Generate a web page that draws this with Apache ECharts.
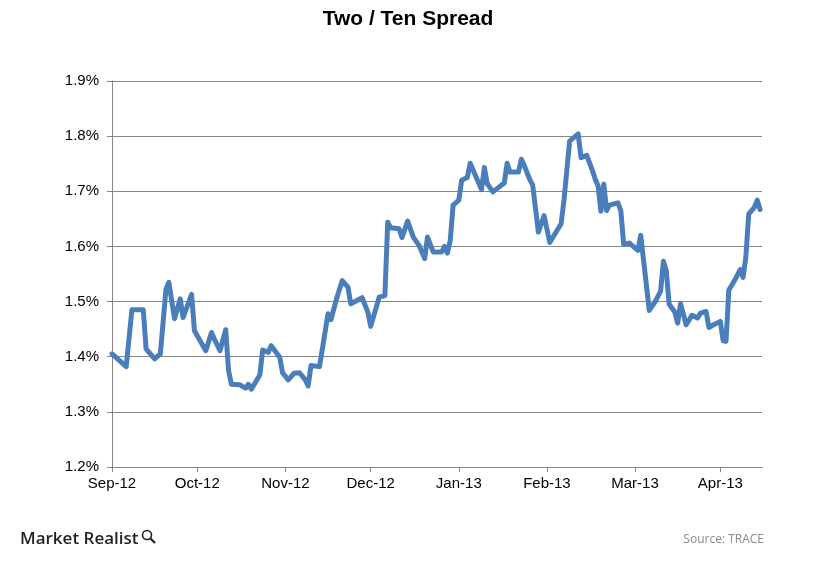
<!DOCTYPE html>
<html>
<head>
<meta charset="utf-8">
<script src="https://cdn.jsdelivr.net/npm/echarts@6/dist/echarts.min.js"></script>
<style>
html,body{margin:0;padding:0;background:#fff;}
#chart{width:816px;height:563px;}
</style>
</head>
<body>
<div id="chart"></div>
<script>
// Data
var dates = [
'2012-09-01','2012-09-06','2012-09-08','2012-09-12','2012-09-13','2012-09-16','2012-09-18','2012-09-20','2012-09-21','2012-09-23',
'2012-09-25','2012-09-26','2012-09-29','2012-09-30','2012-10-02','2012-10-04','2012-10-06','2012-10-07','2012-10-09','2012-10-11',
'2012-10-12','2012-10-13','2012-10-16','2012-10-18','2012-10-19','2012-10-20','2012-10-23','2012-10-24','2012-10-26','2012-10-27',
'2012-10-30','2012-10-31','2012-11-02','2012-11-04','2012-11-06','2012-11-08','2012-11-09','2012-11-10','2012-11-13','2012-11-16',
'2012-11-17','2012-11-19','2012-11-21','2012-11-23','2012-11-24','2012-11-28','2012-11-30','2012-12-01','2012-12-04','2012-12-06',
'2012-12-07','2012-12-08','2012-12-11','2012-12-12','2012-12-14','2012-12-16','2012-12-18','2012-12-20','2012-12-21','2012-12-23',
'2012-12-26','2012-12-27','2012-12-28','2012-12-29','2012-12-30','2013-01-01','2013-01-02','2013-01-04','2013-01-05','2013-01-09',
'2013-01-10','2013-01-11','2013-01-13','2013-01-14','2013-01-17','2013-01-18','2013-01-19','2013-01-22','2013-01-23','2013-01-24',
'2013-01-26','2013-01-27','2013-01-29','2013-01-31','2013-02-02','2013-02-06','2013-02-07','2013-02-09','2013-02-12','2013-02-13',
'2013-02-15','2013-02-17','2013-02-18','2013-02-19','2013-02-20','2013-02-21','2013-02-22','2013-02-23','2013-02-26','2013-02-27',
'2013-02-28','2013-03-02','2013-03-05','2013-03-06','2013-03-07','2013-03-09','2013-03-11','2013-03-13','2013-03-14','2013-03-15',
'2013-03-16','2013-03-18','2013-03-19','2013-03-20','2013-03-22','2013-03-24','2013-03-26','2013-03-27','2013-03-29','2013-03-30',
'2013-04-01','2013-04-03','2013-04-04','2013-04-05','2013-04-06','2013-04-08','2013-04-10','2013-04-11','2013-04-12','2013-04-13',
'2013-04-15','2013-04-16','2013-04-17'
];
var spread = [
1.405,1.382,1.485,1.485,1.414,1.396,1.405,1.523,1.535,1.469,
1.505,1.471,1.513,1.447,1.429,1.411,1.444,1.432,1.411,1.449,
1.375,1.350,1.349,1.343,1.350,1.341,1.367,1.412,1.408,1.420,
1.399,1.371,1.358,1.370,1.371,1.358,1.347,1.384,1.382,1.478,
1.467,1.505,1.538,1.526,1.496,1.507,1.481,1.455,1.508,1.511,
1.644,1.634,1.632,1.616,1.646,1.617,1.602,1.578,1.617,1.590,
1.590,1.600,1.588,1.611,1.675,1.684,1.720,1.725,1.751,1.703,
1.743,1.714,1.699,1.703,1.715,1.751,1.735,1.735,1.758,1.747,
1.721,1.711,1.626,1.656,1.607,1.641,1.684,1.791,1.804,1.761,
1.765,1.738,1.722,1.710,1.664,1.713,1.665,1.675,1.679,1.665,
1.604,1.606,1.593,1.620,1.575,1.484,1.499,1.519,1.573,1.556,
1.495,1.481,1.461,1.496,1.458,1.475,1.470,1.479,1.482,1.453,
1.459,1.464,1.429,1.428,1.521,1.538,1.558,1.544,1.582,1.659,
1.671,1.684,1.667
];
var tickDates = ['2012-09-01','2012-10-01','2012-11-01','2012-12-01','2013-01-01','2013-02-01','2013-03-04','2013-04-03'];
var monthNames = ['Jan','Feb','Mar','Apr','May','Jun','Jul','Aug','Sep','Oct','Nov','Dec'];
var axisStart = '2012-09-01T00:00:00';
var axisEnd = '2013-04-17T16:00:00';

function ts(s){ return +new Date(s.length === 10 ? s + 'T00:00:00' : s); }
var seriesData = dates.map(function(d, i){ return [ts(d), spread[i]]; });
var tickTs = tickDates.map(ts);

var chart = echarts.init(document.getElementById('chart'), null, {renderer:'canvas'});
var gray = '#868686';
chart.setOption({
  animation: false,
  backgroundColor: '#ffffff',
  title: {
    text: 'Two / Ten Spread',
    left: 'center',
    top: 4,
    textStyle: {fontFamily: 'Liberation Sans', fontSize: 21, fontWeight: 'bold', color: '#000'}
  },
  grid: {left: 112, right: 54, top: 81, bottom: 96, containLabel: false},
  xAxis: {
    type: 'value',
    min: ts(axisStart),
    max: ts(axisEnd),
    axisLine: {show: true, lineStyle: {color: gray, width: 1}},
    axisTick: {show: true, length: 5, lineStyle: {color: gray}, customValues: tickTs},
    axisLabel: {
      customValues: tickTs,
      margin: 9,
      fontFamily: 'Liberation Sans',
      fontSize: 15,
      color: '#000',
      showMinLabel: true,
      showMaxLabel: true,
      formatter: function(v){
        var d = new Date(v);
        return monthNames[d.getMonth()] + '-' + String(d.getFullYear()).slice(2);
      }
    },
    splitLine: {show: false}
  },
  yAxis: {
    type: 'value',
    min: 1.2,
    max: 1.9,
    interval: 0.1,
    axisLine: {show: true, lineStyle: {color: gray, width: 1}},
    axisTick: {show: true, length: 5, lineStyle: {color: gray}},
    axisLabel: {
      margin: 13,
      fontFamily: 'Liberation Sans',
      fontSize: 15,
      color: '#000',
      formatter: function(v){ return v.toFixed(1) + '%'; }
    },
    splitLine: {show: true, lineStyle: {color: gray, width: 1}}
  },
  series: [{
    type: 'line',
    data: seriesData,
    showSymbol: false,
    symbol: 'none',
    smooth: false,
    lineStyle: {color: '#4A7EBB', width: 5, join: 'round', cap: 'round'}
  }],
  graphic: [
    {type: 'text', left: 20, top: 531, style: {text: 'Market Realist', fontFamily: 'Open Sans', fontSize: 17, fontWeight: 600, fill: '#231f20'}},
    {type: 'circle', shape: {cx: 147, cy: 535, r: 4.5}, style: {fill: 'none', stroke: '#231f20', lineWidth: 1.6}},
    {type: 'line', shape: {x1: 150.5, y1: 538.5, x2: 155, y2: 543}, style: {stroke: '#231f20', lineWidth: 2.2}},
    {type: 'text', right: 52, top: 534, style: {text: 'Source: TRACE', fontFamily: 'Open Sans', fontSize: 12, fill: '#8a8a8a'}}
  ]
});
</script>
</body>
</html>
